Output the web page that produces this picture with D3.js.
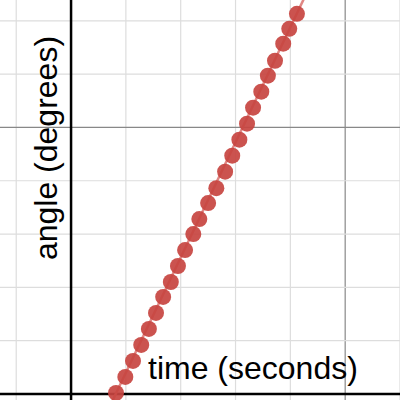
<!DOCTYPE html>
<html><head><meta charset="utf-8">
<script src="https://cdn.jsdelivr.net/npm/d3@7"></script>
<style>body{margin:0;background:#fff}svg{display:block}</style>
</head><body><div id="chart"></div>
<script>
const timeSec = [0.82,0.99,1.13,1.28,1.42,1.55,1.68,1.82,1.95,2.08,2.23,2.34,2.50,2.65,2.81,2.94,3.07,3.21,3.32,3.47,3.59,3.72,3.87,3.98,4.12];
const angleDeg = [0.02,0.32,0.62,0.92,1.22,1.52,1.82,2.10,2.40,2.70,3.00,3.28,3.58,3.86,4.17,4.47,4.77,5.07,5.37,5.67,5.97,6.25,6.57,6.85,7.13];
const fitSlope = 2.16, fitIntercept = -1.76;
const fitRange = [0.6, 4.4];
const xTicks = [-1,0,1,2,3,4,5,6];
const yTicks = [0,1,2,3,4,5,6,7];

const width = 400, height = 400;
const x = d3.scaleLinear().domain([-1.296, 6.0]).range([0, width]);
const y = d3.scaleLinear().domain([-0.113, 7.39]).range([height, 0]);

const svg = d3.select('#chart').append('svg').attr('width', width).attr('height', height);

// grid
svg.append('g').selectAll('line').data(xTicks).enter().append('line')
    .attr('x1', d => x(d)).attr('x2', d => x(d)).attr('y1', 0).attr('y2', height)
    .attr('stroke', d => d % 5 === 0 ? '#888' : '#ddd').attr('stroke-width', 1.2);
svg.append('g').selectAll('line').data(yTicks).enter().append('line')
    .attr('y1', d => y(d)).attr('y2', d => y(d)).attr('x1', 0).attr('x2', width)
    .attr('stroke', d => d % 5 === 0 ? '#888' : '#ddd').attr('stroke-width', 1.2);

// axes
svg.append('line').attr('x1', x(0)).attr('x2', x(0)).attr('y1', 0).attr('y2', height)
    .attr('stroke', '#000').attr('stroke-width', 2.5);
svg.append('line').attr('y1', y(0)).attr('y2', y(0)).attr('x1', 0).attr('x2', width)
    .attr('stroke', '#000').attr('stroke-width', 2.5);

// fit line
const line = d3.line().x(d => x(d)).y(d => y(fitSlope * d + fitIntercept));
svg.append('path').datum(fitRange).attr('d', line)
    .attr('stroke', '#e08784').attr('stroke-width', 2.5).attr('fill', 'none');

// points
svg.append('g').selectAll('circle').data(timeSec).enter().append('circle')
    .attr('cx', d => x(d)).attr('cy', (d, i) => y(angleDeg[i])).attr('r', 8)
    .attr('fill', '#c74440').attr('fill-opacity', 0.92);

// labels
svg.append('text').attr('x', 148).attr('y', 379)
    .style('font-family', 'Liberation Sans, Arial, sans-serif').style('font-size', '32px')
    .text('time (seconds)');
svg.append('text').attr('transform', 'translate(57,148) rotate(-90)')
    .attr('text-anchor', 'middle')
    .style('font-family', 'Liberation Sans, Arial, sans-serif').style('font-size', '32px')
    .text('angle (degrees)');
</script></body></html>
